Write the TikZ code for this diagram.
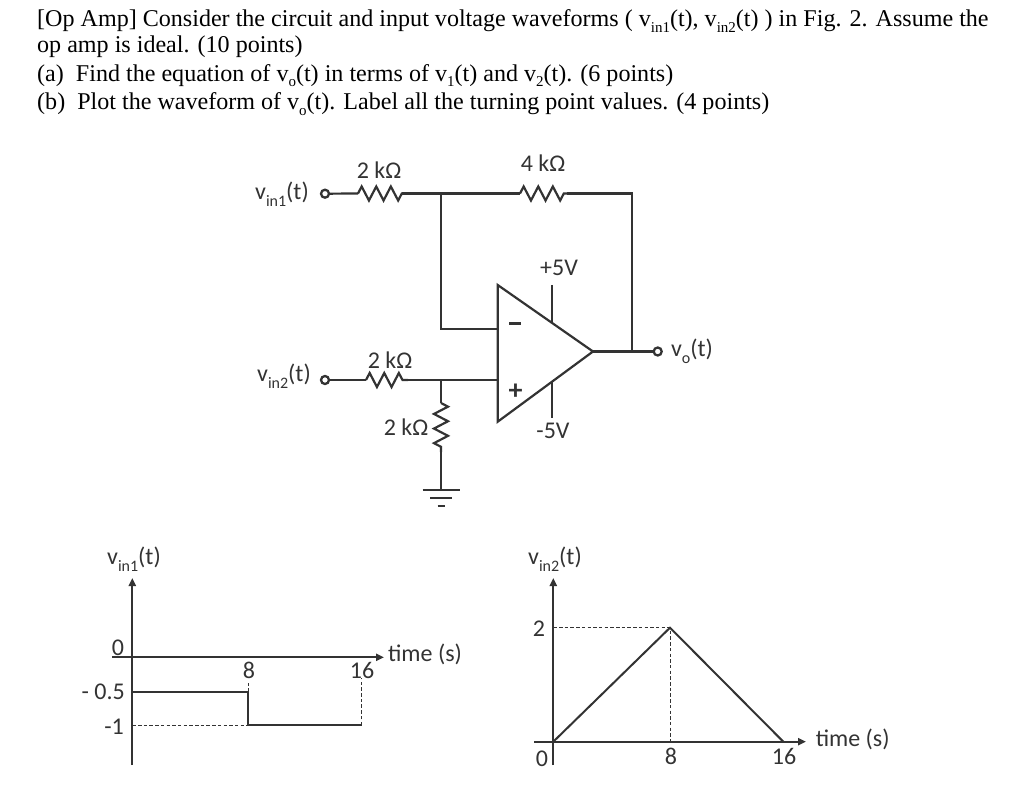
\documentclass[tikz,border=0pt]{standalone}
\usepackage{fontspec}
\usetikzlibrary{arrows.meta, decorations.pathmorphing}
\setmainfont{Liberation Serif}
\setsansfont{Carlito}
\definecolor{wirecol}{HTML}{333333}
\newcommand{\lowsub}[1]{\raisebox{-0.22em}{\fontsize{15}{15}\selectfont #1}}
\newcommand{\circsub}[1]{\raisebox{-0.3em}{\fontsize{16}{16}\selectfont #1}}

\begin{document}
\begin{tikzpicture}[x=1pt,y=-1pt,line join=miter]
    \tikzstyle{every node}=[inner sep=0pt, text=wirecol]
    \tikzstyle{wire}=[draw=wirecol, line width=2.2pt]
    \tikzstyle{resistor}=[wire, decorate, decoration={zigzag, segment length=14.6pt, amplitude=7pt}]
    \tikzstyle{axis}=[draw=wirecol, line width=2pt]
    \tikzstyle{axis arrow}=[axis, -{Triangle[length=8pt,width=7pt]}]
    \tikzstyle{guide}=[draw=wirecol, line width=0.8pt, dash pattern=on 3.5pt off 2.2pt]
    \tikzstyle{terminal}=[circle, draw=wirecol, line width=2.3pt, fill=white, minimum size=8pt]
    \tikzstyle{question}=[anchor=base west, font=\fontsize{24.07}{26}\selectfont, text=black]
    \tikzstyle{lbl}=[font=\sffamily\fontsize{24}{26}\selectfont]

    \useasboundingbox (0,0) rectangle (1024,799);

    % question text
    \node[question] (Q-1) at (37,27) {[Op Amp] Consider the circuit and input voltage waveforms ( v\lowsub{in1}(t), v\lowsub{in2}(t) ) in Fig. 2. Assume the};
    \node[question] (Q-2) at (37,53) {op amp is ideal. (10 points)};
    \node[question] (Q-3) at (37,81.5) {(a)\ \ Find the equation of v\lowsub{o}(t) in terms of v\lowsub{1}(t) and v\lowsub{2}(t). (6 points)};
    \node[question] (Q-4) at (37,110) {(b)\ \ Plot the waveform of v\lowsub{o}(t). Label all the turning point values. (4 points)};

    % circuit
    \node[terminal] (T-1) at (325,193.7) {};
    \node[terminal] (T-2) at (325,380) {};
    \node[terminal] (T-O) at (657.7,351.5) {};

    \coordinate (R1-a) at (358,193.5);
    \coordinate (R1-b) at (402,193.5);
    \coordinate (J-1) at (441,193.5);
    \coordinate (R2-a) at (520,193.5);
    \coordinate (R2-b) at (567,193.5);
    \coordinate (C-1) at (632,193.5);
    \coordinate (J-O) at (632,351.5);
    \coordinate (C-2) at (441,329);
    \coordinate (OA-neg) at (497.7,329);
    \coordinate (R3-a) at (366,380);
    \coordinate (R3-b) at (408,380);
    \coordinate (J-2) at (441,380);
    \coordinate (OA-pos) at (497.7,380);
    \coordinate (R4-a) at (441,403);
    \coordinate (R4-b) at (441,452);
    \coordinate (G) at (441,490);
    \coordinate (OA-top) at (497.7,285);
    \coordinate (OA-bot) at (497.7,421.7);
    \coordinate (OA-tip) at (593,351.5);
    \coordinate (P-a) at (552.3,285);
    \coordinate (P-b) at (552.3,321.5);
    \coordinate (N-a) at (552.3,381.7);
    \coordinate (N-b) at (552.3,418);

    \draw[wire] (T-1) -- (R1-a);
    \draw[resistor] (R1-a) -- (R1-b);
    \draw[wire] (R1-b) -- (R2-a);
    \draw[resistor] (R2-a) -- (R2-b);
    \draw[wire] (R2-b) -- (C-1) -- (J-O);
    \draw[wire] (J-1) -- (C-2) -- (OA-neg);
    \draw[wire] (T-2) -- (R3-a);
    \draw[resistor] (R3-a) -- (R3-b);
    \draw[wire] (R3-b) -- (OA-pos);
    \draw[wire] (J-2) -- (R4-a);
    \draw[resistor] (R4-a) -- (R4-b);
    \draw[wire] (R4-b) -- (G);
    \draw[wire] (OA-top) -- (OA-tip) -- (OA-bot) -- cycle;
    \draw[wire] (OA-tip) -- (T-O);
    \draw[wire] (P-a) -- (P-b);
    \draw[wire] (N-a) -- (N-b);

    % ground bars
    \foreach \n/\w/\y in {1/18.5/490,2/11/497.7,3/3.5/506}{
        \coordinate (G\n-l) at (441-\w,\y);
        \coordinate (G\n-r) at (441+\w,\y);
        \draw[wire] (G\n-l) -- (G\n-r);
    }

    % op amp input signs
    \node[fill=wirecol, minimum width=12pt, minimum height=3pt] (S-neg) at (515,323) {};
    \node[font=\sffamily\bfseries\fontsize{28}{28}\selectfont] (S-pos) at (515.5,391.5) {+};

    \node[lbl] (L-R1) at (379,170) {2 kΩ};
    \node[lbl] (L-R2) at (543,163) {4 kΩ};
    \node[lbl] (L-R3) at (390,360) {2 kΩ};
    \node[lbl] (L-R4) at (406,427) {2 kΩ};
    \node[lbl] (L-P) at (559,268) {+5V};
    \node[lbl] (L-N) at (553,431) {-5V};
    \node[lbl] (L-T1) at (282,194) {v\circsub{in1}(t)};
    \node[lbl] (L-T2) at (284,376) {v\circsub{in2}(t)};
    \node[lbl] (L-O) at (692,351) {v\circsub{o}(t)};

    % plot of vin1
    \coordinate (A-b) at (132.3,765);
    \coordinate (A-t) at (132.3,578);
    \coordinate (A-l) at (112,657.3);
    \coordinate (A-r) at (384,657.3);
    \coordinate (W-0) at (132.3,691.7);
    \coordinate (W-1) at (248.3,691.7);
    \coordinate (W-2) at (248.3,725);
    \coordinate (W-3) at (361.7,725);
    \coordinate (W-4) at (132.3,725);
    \coordinate (W-5) at (361.7,678);
    \coordinate (W-6) at (248.3,681);

    \draw[axis arrow] (A-b) -- (A-t);
    \draw[axis arrow] (A-l) -- (A-r);
    \draw[axis] (W-0) -- (W-1) -- (W-2) -- (W-3);
    \draw[guide] (W-4) -- (W-2);
    \draw[guide] (W-3) -- (W-5);
    \draw[guide] (W-1) -- (W-6);

    \node[lbl] (L-A) at (134,559) {v\circsub{in1}(t)};
    \node[lbl] (L-A0) at (118,648) {0};
    \node[lbl] (L-A8) at (249,670) {8};
    \node[lbl] (L-A16) at (362,670) {16};
    \node[lbl, anchor=east] (L-A5) at (125,692) {- 0.5};
    \node[lbl, anchor=east] (L-A1) at (124,727) {-1};
    \node[lbl] (L-At) at (425,654) {time (s)};

    % plot of vin2
    \coordinate (B-b) at (553.3,765);
    \coordinate (B-t) at (553.3,578);
    \coordinate (B-l) at (534,741.7);
    \coordinate (B-r) at (806,741.7);
    \coordinate (V-0) at (553.3,741.7);
    \coordinate (V-1) at (670,627.7);
    \coordinate (V-2) at (783.3,741.7);
    \coordinate (V-3) at (553.3,627.7);
    \coordinate (V-4) at (670,741.7);

    \draw[axis arrow] (B-b) -- (B-t);
    \draw[axis arrow] (B-l) -- (B-r);
    \draw[axis] (V-0) -- (V-1) -- (V-2);
    \draw[guide] (V-3) -- (V-1) -- (V-4);

    \node[lbl] (L-B) at (555,559) {v\circsub{in2}(t)};
    \node[lbl] (L-B2) at (539,629) {2};
    \node[lbl] (L-B0) at (542,759) {0};
    \node[lbl] (L-B8) at (671,756) {8};
    \node[lbl] (L-B16) at (784,756) {16};
    \node[lbl] (L-Bt) at (852.7,739) {time (s)};
\end{tikzpicture}
\end{document}
